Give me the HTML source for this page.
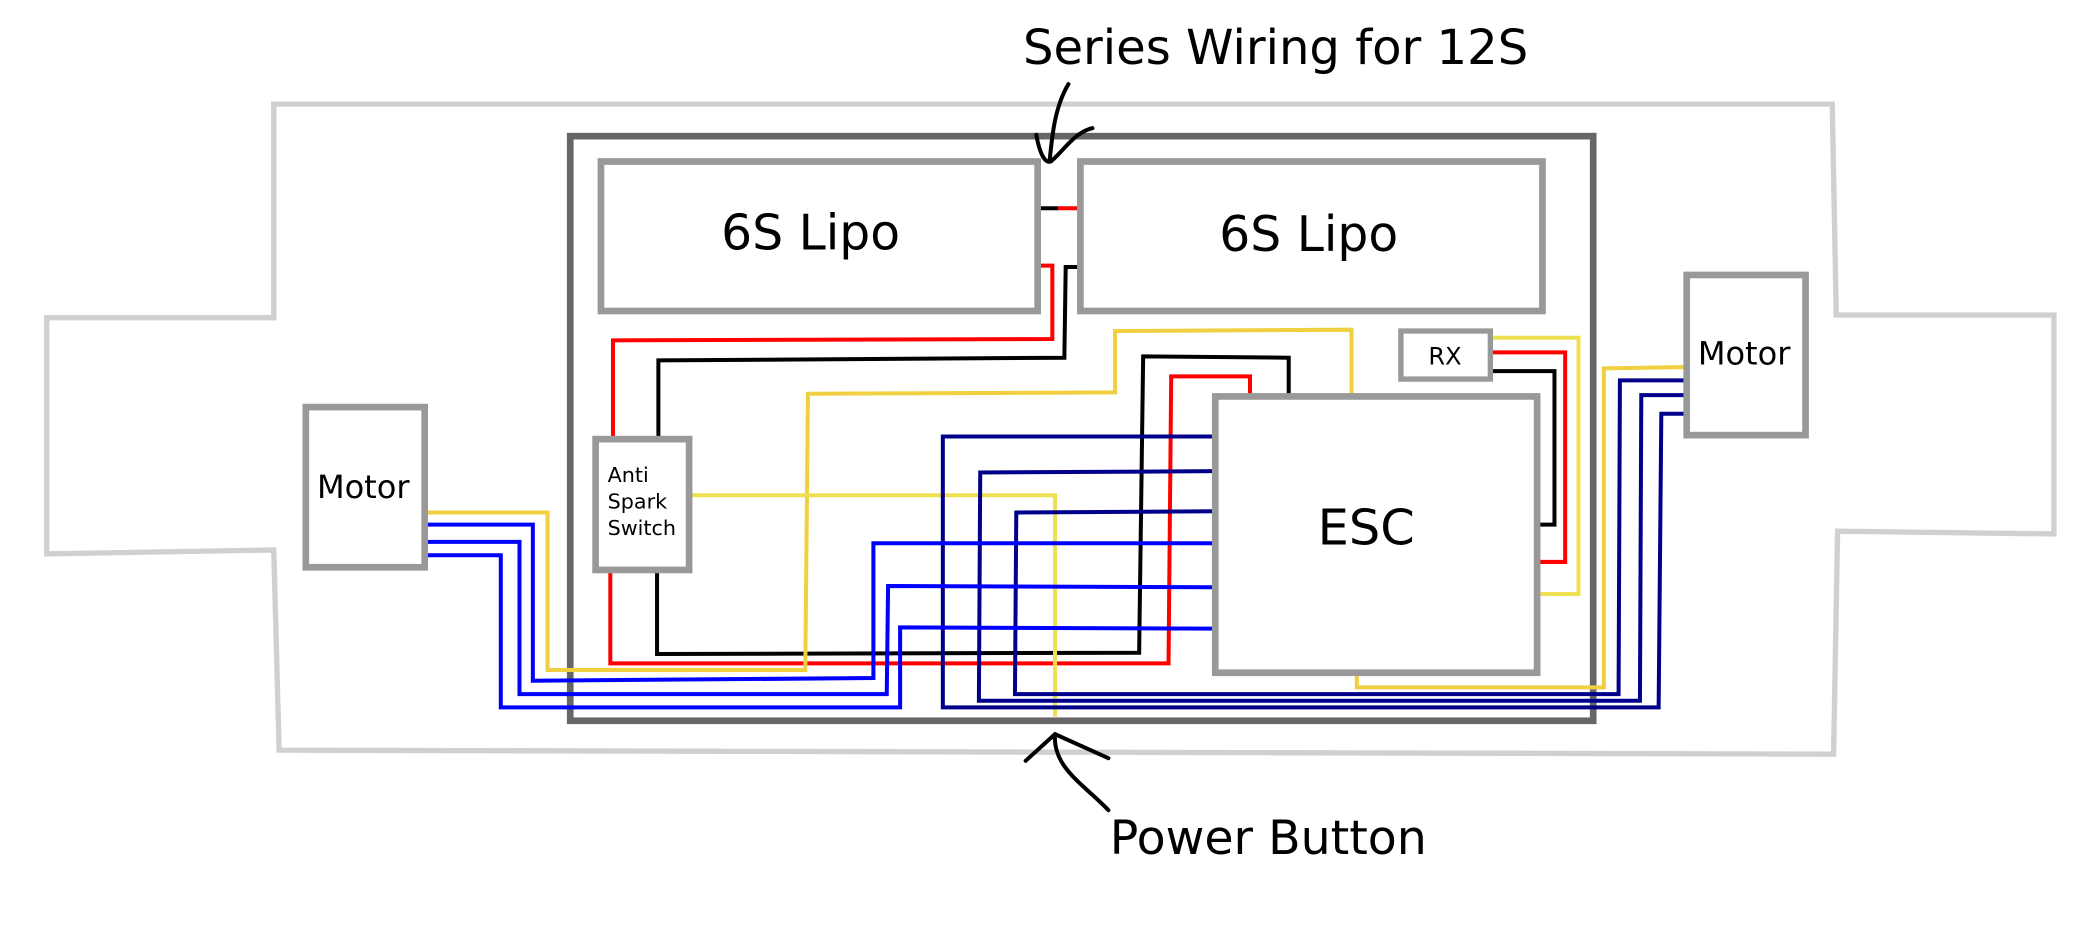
<!DOCTYPE html>
<html><head><meta charset="utf-8"><style>
html,body{margin:0;padding:0;background:#fff;}
svg{display:block;}
text{font-family:"DejaVu Sans","Liberation Sans",sans-serif;fill:#000;}
</style></head><body>
<svg width="2094" height="929" viewBox="0 0 1568 696" preserveAspectRatio="none" xmlns="http://www.w3.org/2000/svg">
<rect width="1568" height="696" fill="#fff"/>
<g fill="none" stroke-linejoin="miter">
<path d="M205,78 L1372,78 L1375,236 L1538,236 L1538,400 L1376,398 L1373,565 L209,562 L205,412 L35,415 L35,238 L205,238 Z" stroke="#d0d0d0" stroke-width="4"/>
<rect x="427" y="102" width="766" height="438" stroke="#666" stroke-width="5"/>
<path d="M779,156 L793,156" stroke="#000" stroke-width="3"/>
<path d="M792,156 L808,156" stroke="#f00" stroke-width="3"/>
<path d="M779,199 L788,199 L788,254 L459,255 L459,330" stroke="#f00" stroke-width="3"/>
<path d="M457,427 L457,497 L875,497 L877,282 L936,282 L936,297" stroke="#f00" stroke-width="3"/>
<path d="M808,200 L798,200 L797,268 L493,270 L493,329" stroke="#000" stroke-width="3"/>
<path d="M492,427 L492,490 L853,489 L856,267 L965,268 L965,297" stroke="#000" stroke-width="3"/>
<path d="M1012,297 L1012,247 L835,248 L835,294 L605,295 L603,502 L410,502 L410,384 L320,384" stroke="#f0d040" stroke-width="3"/>
<path d="M516,371 L790,371 L790,537" stroke="#eee050" stroke-width="3"/>
<path d="M910,327 L706,327 L706,530 L1242,530 L1244,310 L1263,310" stroke="#00008b" stroke-width="3"/>
<path d="M910,353 L734,354 L733,525 L1228,525 L1229,296 L1263,296" stroke="#00008b" stroke-width="3"/>
<path d="M910,383 L761,384 L760,520 L1212,520 L1213,285 L1263,285" stroke="#00008b" stroke-width="3"/>
<path d="M320,393 L399,393 L399,510 L654,508 L654,407 L910,407" stroke="#00f" stroke-width="3"/>
<path d="M320,406 L389,406 L389,520 L664,520 L665,439 L910,440" stroke="#00f" stroke-width="3"/>
<path d="M320,416 L375,416 L375,530 L674,530 L674,470 L910,471" stroke="#00f" stroke-width="3"/>
<path d="M1263,275 L1201,276 L1201,515 L1016,515 L1016,504" stroke="#f0d040" stroke-width="3"/>
<path d="M1117,253 L1182,253 L1182,445 L1151,445" stroke="#eee050" stroke-width="3"/>
<path d="M1117,264 L1172,264 L1172,421 L1151,421" stroke="#f00" stroke-width="3"/>
<path d="M1117,278 L1164,278 L1164,393 L1151,393" stroke="#000" stroke-width="3"/>
<rect x="450" y="121" width="327" height="112" fill="#fff" stroke="#999" stroke-width="5"/>
<rect x="809" y="121" width="346" height="112" fill="#fff" stroke="#999" stroke-width="5"/>
<rect x="446" y="329" width="70" height="98" fill="#fff" stroke="#999" stroke-width="5"/>
<rect x="910" y="297" width="241" height="207" fill="#fff" stroke="#999" stroke-width="5"/>
<rect x="1049" y="248" width="67" height="36" fill="#fff" stroke="#999" stroke-width="4"/>
<rect x="229" y="305" width="89" height="120" fill="#fff" stroke="#999" stroke-width="5"/>
<rect x="1263" y="206" width="89" height="120" fill="#fff" stroke="#999" stroke-width="5"/>
<path d="M800,63 C790,80 788,100 786,120" stroke="#000" stroke-width="3" stroke-linecap="round"/>
<path d="M776,101 C779,118 784,124 788,120 C797,112 805,99 818,96" stroke="#000" stroke-width="3" stroke-linecap="round"/>
<path d="M768,570 L790,550 L830,568" stroke="#000" stroke-width="3" stroke-linecap="round"/>
<path d="M790,550 C788,575 812,588 830,607" stroke="#000" stroke-width="3" stroke-linecap="round"/>
</g>
<text x="607" y="187" font-size="36.5" text-anchor="middle">6S Lipo</text>
<text x="980" y="188" font-size="36.5" text-anchor="middle">6S Lipo</text>
<text x="1023" y="408" font-size="37" text-anchor="middle">ESC</text>
<text x="1082" y="273" font-size="18" text-anchor="middle">RX</text>
<text x="272" y="373" font-size="24" text-anchor="middle">Motor</text>
<text x="1306" y="273" font-size="24" text-anchor="middle">Motor</text>
<text x="455" y="361" font-size="15.5">Anti</text>
<text x="455" y="381" font-size="15.5">Spark</text>
<text x="455" y="401" font-size="15.5">Switch</text>
<text x="766" y="48" font-size="36">Series Wiring for 12S</text>
<text x="831" y="640" font-size="35.5">Power Button</text>
</svg>
</body></html>
